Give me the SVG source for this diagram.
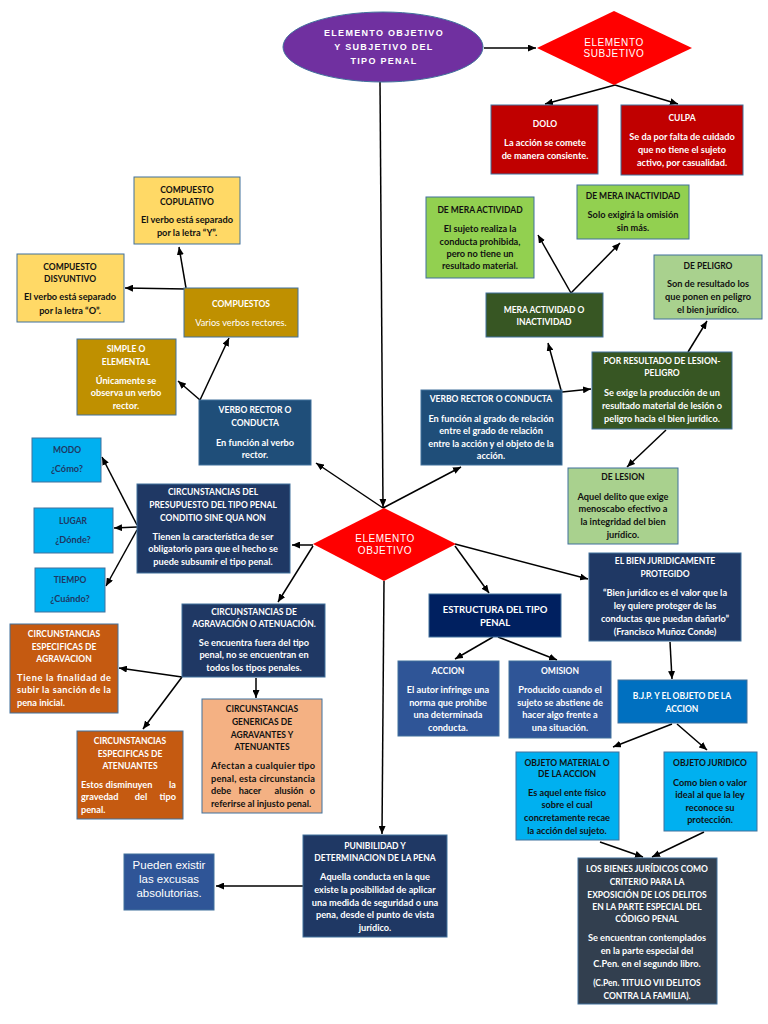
<svg xmlns="http://www.w3.org/2000/svg" width="768" height="1024" viewBox="0 0 768 1024">
<style>
.b{stroke:#41719C;stroke-width:1}
text{font-family:Lato,"Liberation Sans",sans-serif;font-size:8.5px;font-weight:bold;text-anchor:middle;fill:#fff}
.p{font-size:9.2px}
.k{fill:#111}
.nv{fill:#1F3864}
.l{text-anchor:start}
.r{text-anchor:end}
.n{font-weight:normal}
.e{font-size:9.5px}
.x{font-family:"Liberation Sans",Arial,sans-serif;font-weight:normal;font-size:11.5px}
.c line{stroke:#000;stroke-width:1.5;marker-end:url(#ah)}
.ttl{font-family:"Liberation Sans",Arial,sans-serif;font-size:9px;letter-spacing:1.3px}
.dm{font-family:"Liberation Sans",Arial,sans-serif;font-weight:normal;font-size:10px;letter-spacing:0.6px}
</style>
<defs>
<marker id="ah" markerUnits="userSpaceOnUse" markerWidth="8" markerHeight="7" refX="8" refY="3.5" orient="auto"><path d="M0,0 L8,3.5 L0,7 z" fill="#000"/></marker>
</defs>
<rect width="768" height="1024" fill="#fff"/>

<g class="c">
<line x1="484" y1="48" x2="536" y2="48"/>
<line x1="615" y1="85" x2="545" y2="104"/>
<line x1="615" y1="85" x2="678" y2="104"/>
<line x1="380" y1="82" x2="383" y2="507"/>
<line x1="383" y1="508" x2="461" y2="467"/>
<line x1="383" y1="508" x2="316" y2="463"/>
<line x1="200" y1="400" x2="178" y2="381"/>
<line x1="200" y1="400" x2="229" y2="338"/>
<line x1="186" y1="288" x2="179" y2="247"/>
<line x1="186" y1="289" x2="125" y2="288"/>
<line x1="561" y1="390" x2="548" y2="343"/>
<line x1="562" y1="392" x2="591" y2="389"/>
<line x1="571" y1="293" x2="538" y2="235"/>
<line x1="571" y1="293" x2="620" y2="243"/>
<line x1="688" y1="352" x2="707" y2="321"/>
<line x1="666" y1="430" x2="627" y2="467"/>
<line x1="313" y1="545" x2="292" y2="545"/>
<line x1="137" y1="525" x2="102" y2="457"/>
<line x1="137" y1="527" x2="114" y2="528"/>
<line x1="137" y1="530" x2="106" y2="586"/>
<line x1="313" y1="546" x2="278" y2="602"/>
<line x1="182" y1="677" x2="119" y2="668"/>
<line x1="182" y1="677" x2="143" y2="729"/>
<line x1="256" y1="678" x2="256" y2="698"/>
<line x1="455" y1="546" x2="489" y2="593"/>
<line x1="455" y1="544" x2="588" y2="579"/>
<line x1="493" y1="637" x2="455" y2="659"/>
<line x1="498" y1="637" x2="557" y2="660"/>
<line x1="670" y1="642" x2="672" y2="679"/>
<line x1="672" y1="724" x2="613" y2="747"/>
<line x1="677" y1="724" x2="707" y2="750"/>
<line x1="600" y1="842" x2="643" y2="857"/>
<line x1="704" y1="832" x2="652" y2="857"/>
<line x1="384" y1="581" x2="382" y2="834"/>
<line x1="303" y1="886" x2="216" y2="886"/>
</g>

<g id="titulo">
<ellipse cx="383" cy="47" rx="100" ry="35" fill="#7030A0" stroke="#41719C"/>
<text class="ttl" x="384" y="36">ELEMENTO OBJETIVO</text>
<text class="ttl" x="384" y="50">Y SUBJETIVO DEL</text>
<text class="ttl" x="384" y="64">TIPO PENAL</text>
</g>

<g id="subjetivo">
<path d="M614,11 L692,48 L614,85 L537,48 z" fill="#FF0000"/>
<text class="dm" x="614" y="46">ELEMENTO</text>
<text class="dm" x="614" y="57">SUBJETIVO</text>
</g>

<g id="dolo">
<rect x="491" y="105" width="107" height="69" fill="#C00000" class="b"/>
<text x="545" y="127">DOLO</text>
<text class="p" x="545" y="146">La acción se comete</text>
<text class="p" x="545" y="159">de manera consiente.</text>
</g>

<g id="culpa">
<rect x="621" y="105" width="122" height="70" fill="#C00000" class="b"/>
<text x="682" y="121">CULPA</text>
<text class="p" x="682" y="140">Se da por falta de cuidado</text>
<text class="p" x="682" y="153">que no tiene el sujeto</text>
<text class="p" x="682" y="166">activo, por casualidad.</text>
</g>

<g id="copulativo">
<rect x="134" y="177" width="106" height="67" fill="#FFD966" class="b"/>
<text class="k" x="187" y="193">COMPUESTO</text>
<text class="k" x="187" y="205">COPULATIVO</text>
<text class="k p" x="187" y="223">El verbo está separado</text>
<text class="k p" x="187" y="236">por la letra “Y”.</text>
</g>

<g id="disyuntivo">
<rect x="17" y="254" width="107" height="68" fill="#FFD966" class="b"/>
<text class="k" x="70" y="270">COMPUESTO</text>
<text class="k" x="70" y="282">DISYUNTIVO</text>
<text class="k p" x="70" y="300">El verbo está separado</text>
<text class="k p" x="70" y="314">por la letra “O”.</text>
</g>

<g id="compuestos">
<rect x="184" y="288" width="114" height="49" fill="#BF9000" class="b"/>
<text x="241" y="307">COMPUESTOS</text>
<text class="p n" x="241" y="326">Varios verbos rectores.</text>
</g>

<g id="simple">
<rect x="77" y="339" width="99" height="76" fill="#BF9000" class="b"/>
<text x="126" y="352">SIMPLE O</text>
<text x="126" y="365">ELEMENTAL</text>
<text class="p" x="126" y="384">Únicamente se</text>
<text class="p" x="126" y="396">observa un verbo</text>
<text class="p" x="126" y="409">rector.</text>
</g>

<g id="verbo-izq">
<rect x="199" y="400" width="112" height="65" fill="#1F4E79" class="b"/>
<text x="255" y="413">VERBO RECTOR O</text>
<text x="255" y="426">CONDUCTA</text>
<text class="p" x="255" y="446">En función al verbo</text>
<text class="p" x="255" y="458">rector.</text>
</g>

<g id="verbo-centro">
<rect x="421" y="390" width="141" height="75" fill="#1F4E79" class="b"/>
<text x="491" y="402">VERBO RECTOR O CONDUCTA</text>
<text class="p" x="491" y="422">En función al grado de relación</text>
<text class="p" x="491" y="434">entre el grado de relación</text>
<text class="p" x="491" y="447">entre la acción y el objeto de la</text>
<text class="p" x="491" y="459">acción.</text>
</g>

<g id="mera">
<rect x="486" y="293" width="117" height="44" fill="#375623" class="b"/>
<text x="544" y="313">MERA ACTIVIDAD O</text>
<text x="544" y="325">INACTIVIDAD</text>
</g>

<g id="mera-actividad">
<rect x="426" y="197" width="108" height="81" fill="#92D050" class="b"/>
<text class="k" x="480" y="213">DE MERA ACTIVIDAD</text>
<text class="k p" x="480" y="232">El sujeto realiza la</text>
<text class="k p" x="480" y="245">conducta prohibida,</text>
<text class="k p" x="480" y="257">pero no tiene un</text>
<text class="k p" x="480" y="269">resultado material.</text>
</g>

<g id="mera-inactividad">
<rect x="577" y="185" width="112" height="54" fill="#92D050" class="b"/>
<text class="k" x="633" y="199">DE MERA INACTIVIDAD</text>
<text class="k p" x="633" y="218">Solo exigirá la omisión</text>
<text class="k p" x="633" y="231">sin más.</text>
</g>

<g id="peligro">
<rect x="654" y="255" width="108" height="64" fill="#A9D18E" class="b"/>
<text class="k" x="708" y="269">DE PELIGRO</text>
<text class="k p" x="708" y="287">Son de resultado los</text>
<text class="k p" x="708" y="300">que ponen en peligro</text>
<text class="k p" x="708" y="313">el bien jurídico.</text>
</g>

<g id="resultado">
<rect x="592" y="352" width="140" height="77" fill="#375623" class="b"/>
<text x="662" y="364">POR RESULTADO DE LESION-</text>
<text x="662" y="376">PELIGRO</text>
<text class="p" x="662" y="396">Se exige la producción de un</text>
<text class="p" x="662" y="409">resultado material de lesión o</text>
<text class="p" x="662" y="422">peligro hacia el bien jurídico.</text>
</g>

<g id="lesion">
<rect x="568" y="468" width="110" height="76" fill="#A9D18E" class="b"/>
<text class="k" x="623" y="480">DE LESION</text>
<text class="k p" x="623" y="500">Aquel delito que exige</text>
<text class="k p" x="623" y="512">menoscabo efectivo a</text>
<text class="k p" x="623" y="525">la integridad del bien</text>
<text class="k p" x="623" y="538">jurídico.</text>
</g>

<g id="objetivo">
<path d="M384,508 L456,544 L384,581 L313,544 z" fill="#FF0000"/>
<text class="dm" x="385" y="542">ELEMENTO</text>
<text class="dm" x="385" y="554">OBJETIVO</text>
</g>

<g id="presupuesto">
<rect x="137" y="484" width="153" height="89" fill="#1F3864" class="b"/>
<text x="213" y="495">CIRCUNSTANCIAS DEL</text>
<text x="213" y="508">PRESUPUESTO DEL TIPO PENAL</text>
<text x="213" y="521">CONDITIO SINE QUA NON</text>
<text class="p" x="213" y="540">Tienen la característica de ser</text>
<text class="p" x="213" y="552">obligatorio para que el hecho se</text>
<text class="p" x="213" y="565">puede subsumir el tipo penal.</text>
</g>

<g id="modo">
<rect x="32" y="438" width="69" height="44" fill="#00B0F0" class="b"/>
<text class="nv" x="67" y="453">MODO</text>
<text class="nv p" x="67" y="472">¿Cómo?</text>
</g>

<g id="lugar">
<rect x="34" y="508" width="79" height="45" fill="#00B0F0" class="b"/>
<text class="nv" x="73" y="524">LUGAR</text>
<text class="nv p" x="73" y="543">¿Dónde?</text>
</g>

<g id="tiempo">
<rect x="35" y="568" width="70" height="44" fill="#00B0F0" class="b"/>
<text class="nv" x="70" y="583">TIEMPO</text>
<text class="nv p" x="70" y="602">¿Cuándo?</text>
</g>

<g id="agravacion">
<rect x="182" y="604" width="143" height="73" fill="#1F3864" class="b"/>
<text x="254" y="615">CIRCUNSTANCIAS DE</text>
<text x="254" y="627">AGRAVACIÓN O ATENUACIÓN.</text>
<text class="p" x="254" y="646">Se encuentra fuera del tipo</text>
<text class="p" x="254" y="658">penal, no se encuentran en</text>
<text class="p" x="254" y="671">todos los tipos penales.</text>
</g>

<g id="esp-agravacion">
<rect x="10" y="624" width="108" height="89" fill="#C55A11" class="b"/>
<text x="64" y="637">CIRCUNSTANCIAS</text>
<text x="64" y="650">ESPECIFICAS DE</text>
<text x="64" y="662">AGRAVACION</text>
<text class="p l" x="17" y="681" textLength="94" lengthAdjust="spacing">Tiene la finalidad de</text>
<text class="p l" x="17" y="693" textLength="94" lengthAdjust="spacing">subir la sanción de la</text>
<text class="p l" x="17" y="706">pena inicial.</text>
</g>

<g id="esp-atenuantes">
<rect x="77" y="731" width="106" height="88" fill="#C55A11" class="b"/>
<text x="130" y="744">CIRCUNSTANCIAS</text>
<text x="130" y="757">ESPECIFICAS DE</text>
<text x="130" y="769">ATENUANTES</text>
<text class="p l" x="81" y="788">Estos</text>
<text class="p" x="129" y="788">disminuyen</text>
<text class="p r" x="176" y="788">la</text>
<text class="p l" x="81" y="800">gravedad</text>
<text class="p" x="141" y="800">del</text>
<text class="p r" x="176" y="800">tipo</text>
<text class="p l" x="81" y="813">penal.</text>
</g>

<g id="genericas">
<rect x="202" y="699" width="120" height="114" fill="#F4B183" class="b"/>
<text class="k" x="262" y="712">CIRCUNSTANCIAS</text>
<text class="k" x="262" y="725">GENERICAS DE</text>
<text class="k" x="262" y="738">AGRAVANTES Y</text>
<text class="k" x="262" y="750">ATENUANTES</text>
<text class="k p l" x="211" y="769" textLength="104" lengthAdjust="spacing">Afectan a cualquier tipo</text>
<text class="k p l" x="211" y="782" textLength="104" lengthAdjust="spacing">penal, esta circunstancia</text>
<text class="k p l" x="211" y="794">debe</text>
<text class="k p" x="250" y="794">hacer</text>
<text class="k p" x="289" y="794">alusión</text>
<text class="k p r" x="315" y="794">o</text>
<text class="k p l" x="211" y="807">referirse al injusto penal.</text>
</g>

<g id="estructura">
<rect x="429" y="594" width="132" height="43" fill="#002060" class="b"/>
<text class="e" x="495" y="613">ESTRUCTURA DEL TIPO</text>
<text class="e" x="495" y="626">PENAL</text>
</g>

<g id="accion">
<rect x="398" y="661" width="101" height="75" fill="#2F5597" class="b"/>
<text x="448" y="674">ACCION</text>
<text class="p" x="448" y="693">El autor infringe una</text>
<text class="p" x="448" y="706">norma que prohíbe</text>
<text class="p" x="448" y="718">una determinada</text>
<text class="p" x="448" y="731">conducta.</text>
</g>

<g id="omision">
<rect x="509" y="661" width="102" height="77" fill="#2F5597" class="b"/>
<text x="560" y="674">OMISION</text>
<text class="p" x="560" y="693">Producido cuando el</text>
<text class="p" x="560" y="706">sujeto se abstiene de</text>
<text class="p" x="560" y="718">hacer algo frente a</text>
<text class="p" x="560" y="731">una situación.</text>
</g>

<g id="bien">
<rect x="589" y="553" width="152" height="88" fill="#1F3864" class="b"/>
<text x="665" y="564">EL BIEN JURIDICAMENTE</text>
<text x="665" y="577">PROTEGIDO</text>
<text class="p" x="665" y="596">“Bien jurídico es el valor que la</text>
<text class="p" x="665" y="609">ley quiere proteger de las</text>
<text class="p" x="665" y="622">conductas que puedan dañarlo”</text>
<text class="p" x="665" y="635">(Francisco Muñoz Conde)</text>
</g>

<g id="bjp">
<rect x="618" y="680" width="129" height="43" fill="#0070C0" class="b"/>
<text x="682" y="699">B.J.P. Y EL OBJETO DE LA</text>
<text x="682" y="712">ACCION</text>
</g>

<g id="obj-material">
<rect x="516" y="752" width="103" height="88" fill="#00B0F0" class="b"/>
<text class="k" x="567" y="766">OBJETO MATERIAL O</text>
<text class="k" x="567" y="777">DE LA ACCION</text>
<text class="k p" x="567" y="796">Es aquel ente físico</text>
<text class="k p" x="567" y="808">sobre el cual</text>
<text class="k p" x="567" y="821">concretamente recae</text>
<text class="k p" x="567" y="834">la acción del sujeto.</text>
</g>

<g id="obj-juridico">
<rect x="664" y="752" width="93" height="79" fill="#00B0F0" class="b"/>
<text class="k" x="710" y="766">OBJETO JURIDICO</text>
<text class="k p" x="710" y="786">Como bien o valor</text>
<text class="k p" x="710" y="798">ideal al que la ley</text>
<text class="k p" x="710" y="811">reconoce su</text>
<text class="k p" x="710" y="823">protección.</text>
</g>

<g id="bienes">
<rect x="578" y="858" width="139" height="146" fill="#323F4F" class="b"/>
<text x="647" y="872">LOS BIENES JURÍDICOS COMO</text>
<text x="647" y="885">CRITERIO PARA LA</text>
<text x="647" y="898">EXPOSICIÓN DE LOS DELITOS</text>
<text x="647" y="910">EN LA PARTE ESPECIAL DEL</text>
<text x="647" y="922">CÓDIGO PENAL</text>
<text class="p" x="647" y="941">Se encuentran contemplados</text>
<text class="p" x="647" y="954">en la parte especial del</text>
<text class="p" x="647" y="967">C.Pen. en el segundo libro.</text>
<text x="647" y="986">(C.Pen. TITULO VII DELITOS</text>
<text x="647" y="999">CONTRA LA FAMILIA).</text>
</g>

<g id="punibilidad">
<rect x="303" y="835" width="144" height="102" fill="#1F3864" class="b"/>
<text x="375" y="849">PUNIBILIDAD Y</text>
<text x="375" y="861">DETERMINACION DE LA PENA</text>
<text class="p" x="375" y="880">Aquella conducta en la que</text>
<text class="p" x="375" y="893">existe la posibilidad de aplicar</text>
<text class="p" x="375" y="906">una medida de seguridad o una</text>
<text class="p" x="375" y="918">pena, desde el punto de vista</text>
<text class="p" x="375" y="931">jurídico.</text>
</g>

<g id="excusas">
<rect x="124" y="854" width="90" height="56" fill="#2F5597" class="b"/>
<text class="x" x="169" y="869">Pueden existir</text>
<text class="x" x="169" y="883">las excusas</text>
<text class="x" x="169" y="897">absolutorias.</text>
</g>
</svg>
